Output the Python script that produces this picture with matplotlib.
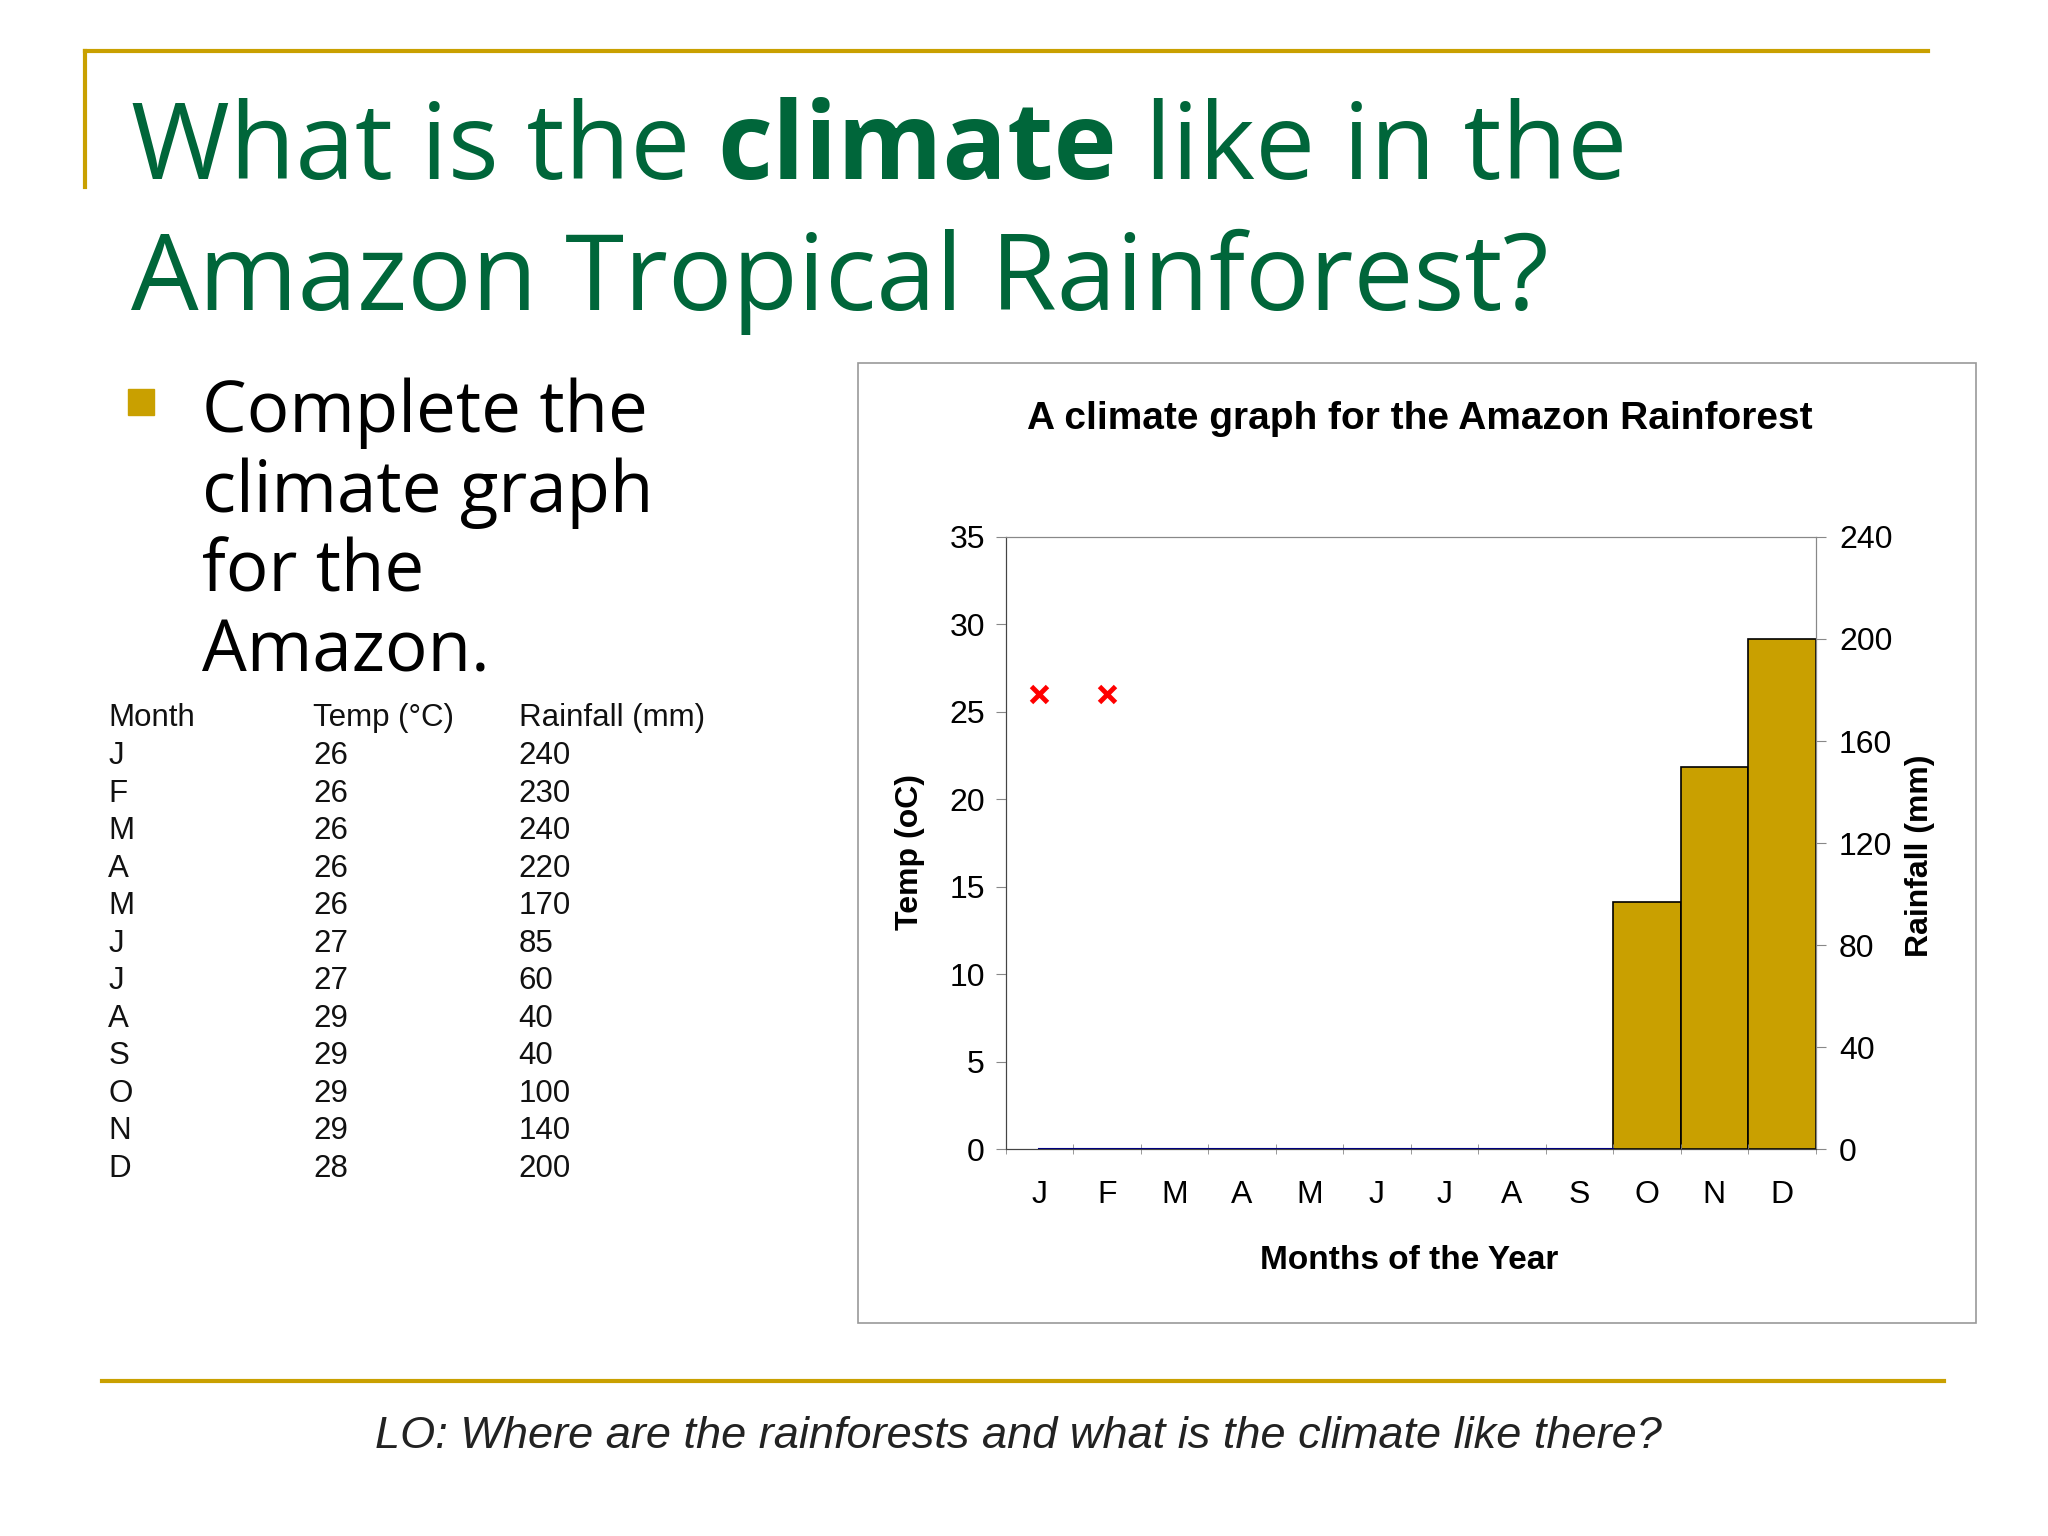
import matplotlib
matplotlib.use("Agg")
import matplotlib.pyplot as plt
from matplotlib.patches import Rectangle
import numpy as np

months = ["J", "F", "M", "A", "M", "J", "J", "A", "S", "O", "N", "D"]
table_temp = [26, 26, 26, 26, 26, 27, 27, 29, 29, 29, 29, 28]
table_rain = [240, 230, 240, 220, 170, 85, 60, 40, 40, 100, 140, 200]
plotted_temp_idx = [0, 1]
plotted_temp = [26, 26]
plotted_rain_idx = [9, 10, 11]
plotted_rain = [97, 150, 200]

W, H = 1568, 1176
def fx(px): return px / W
def fy(py): return 1 - py / H

fig = plt.figure(figsize=(20.48, 15.36), dpi=100)
fig.patch.set_facecolor("white")
gold = "#C9A000"
green = "#00663A"

fig.add_artist(plt.Line2D([fx(65), fx(1476)], [fy(39), fy(39)], color=gold, lw=3))
fig.add_artist(plt.Line2D([fx(65), fx(65)], [fy(39), fy(143)], color=gold, lw=3))
fig.add_artist(plt.Line2D([fx(78), fx(1488)], [fy(1057), fy(1057)], color=gold, lw=3))

tfont = dict(family="Open Sans", fontsize=77, color=green)
t1 = fig.text(fx(100), fy(137), "What is the ", va="baseline", **tfont)
t2 = fig.text(0, 0, "climate", va="baseline", fontweight="bold", **tfont)
t3 = fig.text(0, 0, " like in the", va="baseline", **tfont)
fig.canvas.draw()
r = fig.canvas.get_renderer()
bb = t1.get_window_extent(r)
t2.set_position((bb.x1 / fig.bbox.width, fy(137)))
bb2 = t2.get_window_extent(r)
t3.set_position((bb2.x1 / fig.bbox.width, fy(137)))
fig.text(fx(100), fy(237), "Amazon Tropical Rainforest?", va="baseline", **tfont)

fig.add_artist(Rectangle((fx(98), fy(318)), fx(20), 20 / H, color=gold, transform=fig.transFigure))
for i, line in enumerate(["Complete the", "climate graph", "for the", "Amazon."]):
    fig.text(fx(155), fy(331 + i * 61), line, fontsize=51, family="Open Sans", va="baseline", color="black")

cols = [83, 240, 397]
tf = dict(fontsize=22.5, family="Liberation Sans", va="center", color="#111111")
fig.text(fx(cols[0]), fy(550), "Month", **tf)
fig.text(fx(cols[1]), fy(550), "Temp (°C)", **tf)
fig.text(fx(cols[2]), fy(550), "Rainfall (mm)", **tf)
for i, m in enumerate(months):
    y = fy(579 + i * 28.7)
    fig.text(fx(cols[0]), y, m, **tf)
    fig.text(fx(cols[1]), y, str(table_temp[i]), **tf)
    fig.text(fx(cols[2]), y, str(table_rain[i]), **tf)

fig.add_artist(Rectangle((fx(657), fy(1013)), fx(1513) - fx(657), fy(278) - fy(1013),
                         fill=False, ec="#999999", lw=1.2, transform=fig.transFigure))
fig.text(fx(1087), fy(321), "A climate graph for the Amazon Rainforest", ha="center", va="center",
         fontsize=28, fontweight="bold", family="Liberation Sans")

ax = fig.add_axes([fx(770), fy(880), fx(1390) - fx(770), fy(411) - fy(880)])
ax2 = ax.twinx()
ax2.bar(plotted_rain_idx, plotted_rain, width=1.0, color=gold, edgecolor="black", lw=1.2, zorder=2)
ax2.set_ylim(0, 240)
ax2.set_yticks(np.arange(0, 241, 40))
ax.set_ylim(0, 35)
ax.set_xlim(-0.5, 11.5)
ax.set_yticks(np.arange(0, 36, 5))
ax.plot(plotted_temp_idx, plotted_temp, ls="none", marker="x", color="red", ms=12, mew=3.5, zorder=5)
ax.plot([0, 8.5], [0, 0], color="#000080", lw=1.5, zorder=4)
ax.set_zorder(ax2.get_zorder() + 1)
ax.patch.set_visible(False)

ax.set_xticks(np.arange(12))
ax.set_xticklabels(months)
ax.set_xticks(np.arange(-0.5, 12, 1), minor=True)
ax.tick_params(axis="x", which="major", length=0, pad=22, labelsize=23)
ax.tick_params(axis="x", which="minor", length=7, direction="inout", color="#888888")
ax.tick_params(axis="y", labelsize=23, length=7, color="#888888", pad=8)
ax2.tick_params(axis="y", labelsize=23, length=7, color="#888888", pad=10)
for a in (ax, ax2):
    for s in a.spines.values():
        s.set_color("#888888")
    a.spines["left"].set_color("#444444")
    a.spines["bottom"].set_color("#444444")
for lab in ax.get_xticklabels() + ax.get_yticklabels() + ax2.get_yticklabels():
    lab.set_family("Liberation Sans")

fig.text(fx(697), fy(652), "Temp (oC)", rotation=90, ha="center", va="center",
         fontsize=23, fontweight="bold", family="Liberation Sans")
fig.text(fx(1470), fy(655), "Rainfall (mm)", rotation=90, ha="center", va="center",
         fontsize=23, fontweight="bold", family="Liberation Sans")
fig.text(fx(1079), fy(965), "Months of the Year", ha="center", va="center",
         fontsize=24, fontweight="bold", family="Liberation Sans")

fig.text(fx(780), fy(1100), "LO: Where are the rainforests and what is the climate like there?",
         ha="center", va="center", fontsize=32.5, style="italic", family="Liberation Sans", color="#222222")

fig.savefig("out.png", dpi=100)
